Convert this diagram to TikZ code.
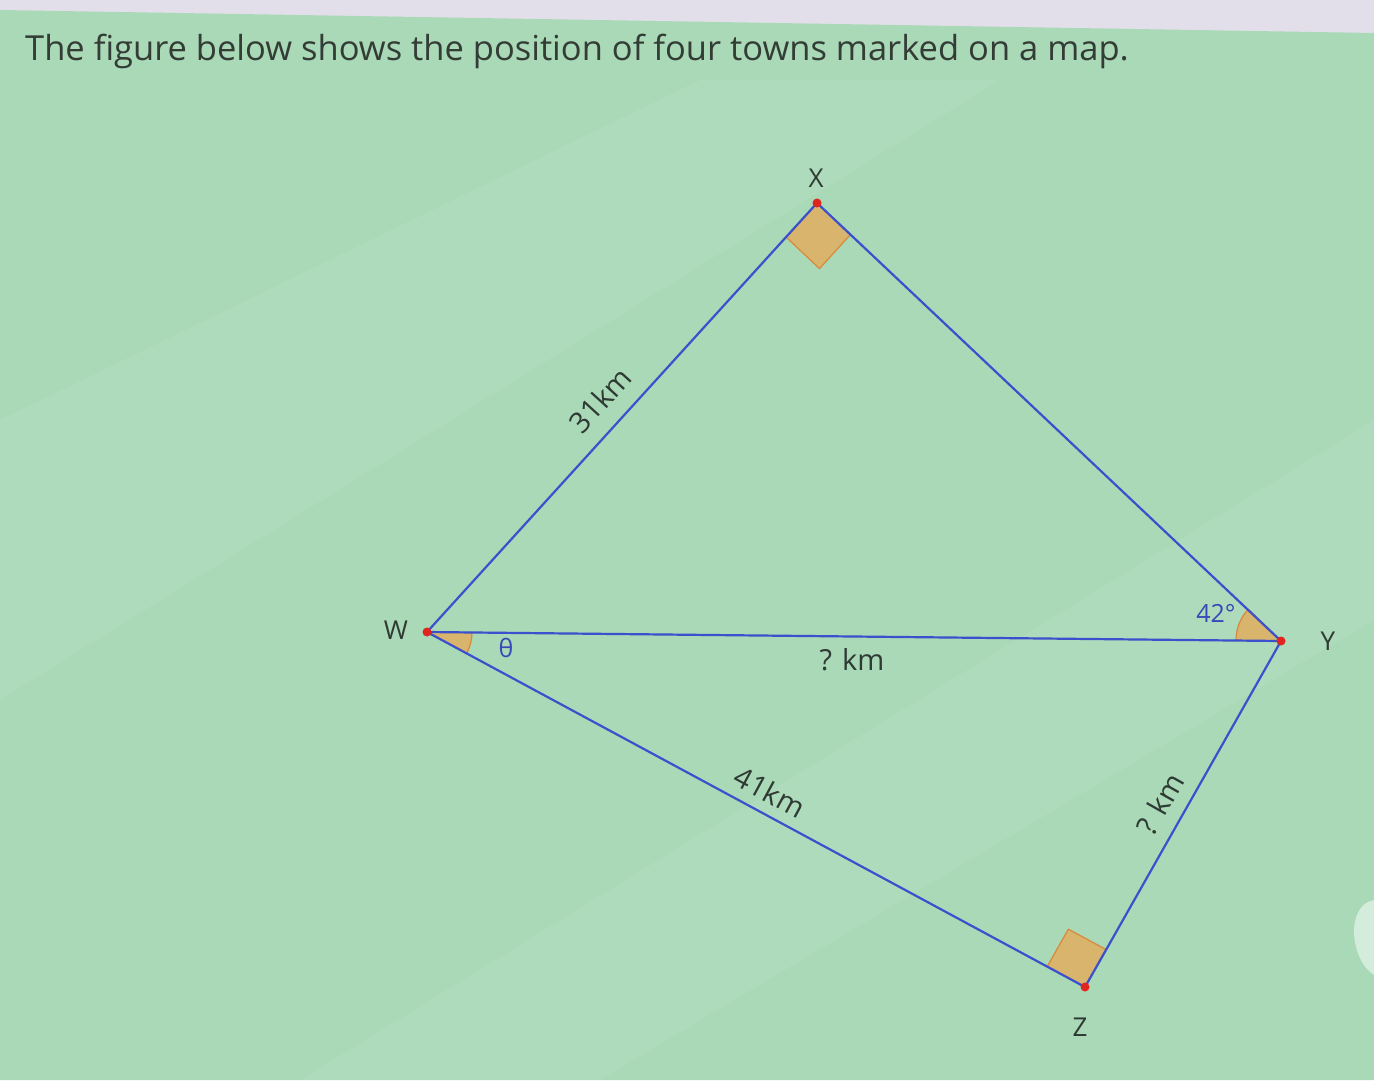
\documentclass[tikz,border=0pt]{standalone}
\usepackage{fontspec}
\setmainfont{Open Sans}
\usetikzlibrary{calc}
\definecolor{bggreen}{HTML}{A9D9B7}
\definecolor{bgtop}{HTML}{E3DFEA}
\definecolor{edgeblue}{HTML}{3A50CC}
\definecolor{marksfill}{HTML}{D8B46C}
\definecolor{marksdraw}{HTML}{D9893A}
\definecolor{dotred}{HTML}{E0241E}
\definecolor{labelgray}{HTML}{2E3A33}
\definecolor{titlegray}{HTML}{333D36}
\definecolor{greekblue}{HTML}{3848B8}
\tikzset{
  edge/.style={draw=edgeblue, line width=2.2pt},
  anglemark/.style={fill=marksfill, draw=marksdraw, line width=1.2pt},
  town/.style={circle, fill=dotred, inner sep=0pt, minimum size=9pt},
  townlabel/.style={text=labelgray, font=\fontsize{26}{30}\selectfont},
  measure/.style={text=labelgray, font=\fontsize{29}{33}\selectfont},
  greek/.style={text=greekblue, font=\fontsize{25}{29}\selectfont},
}
\begin{document}
\begin{tikzpicture}[x=1pt, y=-1pt]
\useasboundingbox (0,0) rectangle (1374,1080);
\fill[bgtop] (0,0) rectangle (1374,1080);
\fill[bggreen] (0,10) -- (1374,33) -- (1374,1080) -- (0,1080) -- cycle;
% soft light bands
\fill[white, opacity=0.06] (0,420) -- (700,80) -- (1000,80) -- (0,700) -- cycle;
\fill[white, opacity=0.06] (300,1080) -- (1374,420) -- (1374,620) -- (600,1080) -- cycle;
\fill[white, opacity=0.5] (1374,900) .. controls (1345,905) and (1350,960) .. (1374,975) -- cycle;

\node[anchor=base west, text=titlegray, font=\fontsize{34.5}{40}\selectfont, inner sep=0pt] (title) at (25,60) {The figure below shows the position of four towns marked on a map.};

\coordinate (W) at (427,632);
\coordinate (X) at (817,203);
\coordinate (Y) at (1281,641);
\coordinate (Z) at (1085,987);

% right angle at X
\path[anglemark] (X) -- ($(X)!46pt!(W)$) -- ($($(X)!46pt!(W)$)+($(X)!46pt!(Y)$)-(X)$) -- ($(X)!46pt!(Y)$) -- cycle;
% right angle at Z
\path[anglemark] (Z) -- ($(Z)!43pt!(W)$) -- ($($(Z)!43pt!(W)$)+($(Z)!43pt!(Y)$)-(Z)$) -- ($(Z)!43pt!(Y)$) -- cycle;
% theta at W
\path[anglemark] (W) -- ($(W)!45pt!(Y)$) arc[start angle=-0.5, end angle=-28.4, radius=45pt] -- cycle;
% 42 at Y
\path[anglemark] (Y) -- ($(Y)!45pt!(W)$) arc[start angle=180.5, end angle=136.6, radius=45pt] -- cycle;

\draw[edge] (W) -- (X);
\draw[edge] (X) -- (Y);
\draw[edge] (W) -- (Y);
\draw[edge] (W) -- (Z);
\draw[edge] (Z) -- (Y);

\node[town] (dW) at (W) {};
\node[town] (dX) at (X) {};
\node[town] (dY) at (Y) {};
\node[town] (dZ) at (Z) {};

\node[townlabel] (lX) at (816,178) {X};
\node[townlabel] (lW) at (396,630) {W};
\node[townlabel] (lY) at (1328,641) {Y};
\node[townlabel] (lZ) at (1080,1027) {Z};

\node[measure, rotate=47.7] (l31) at (600,400) {31km};
\node[measure, rotate=-28.4] (l41) at (770,792) {41km};
\node[measure] (lq1) at (852,660) {? km};
\node[measure, rotate=60.5] (lq2) at (1160,804) {? km};

\node[greek] (th) at (506,648) {θ};
\node[greek] (a42) at (1216,613) {42°};
\end{tikzpicture}
\end{document}
